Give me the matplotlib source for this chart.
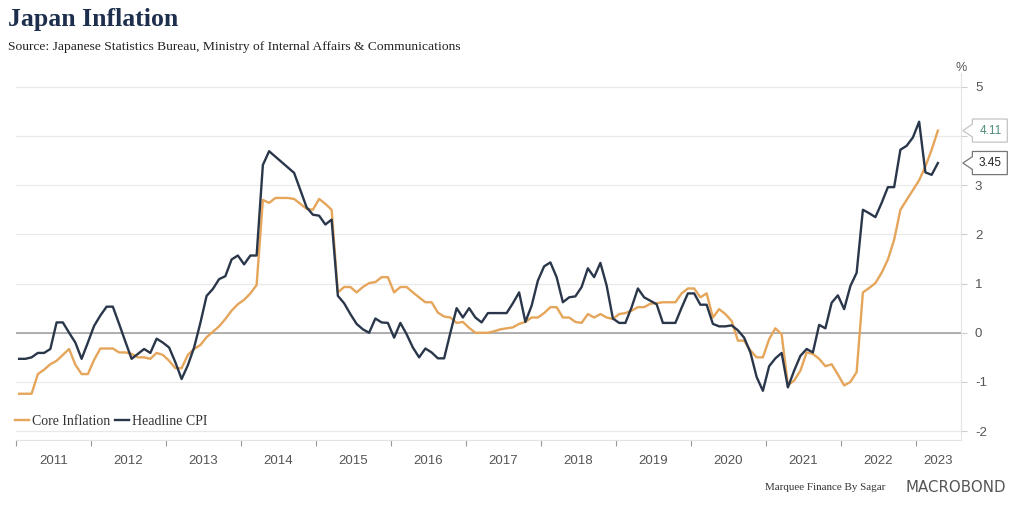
import numpy as np
import pandas as pd
import matplotlib
matplotlib.use('Agg')
import matplotlib.pyplot as plt
import matplotlib.transforms as mtransforms
from matplotlib.patches import Polygon

# monthly data, Jan 2011 .. Apr 2023 (y/y %)
months = pd.period_range('2011-01', '2023-04', freq='M')

core = [
    -1.24, -1.24, -1.24, -0.84, -0.75, -0.64, -0.57, -0.45, -0.33, -0.65, -0.84, -0.84,  # 2011
    -0.55, -0.32, -0.32, -0.32, -0.40, -0.40, -0.43, -0.50, -0.50, -0.53, -0.41, -0.45,  # 2012
    -0.57, -0.72, -0.72, -0.45, -0.33, -0.25, -0.09, 0.02, 0.13, 0.28, 0.45, 0.58,       # 2013
    0.67, 0.80, 0.97, 2.70, 2.64, 2.74, 2.74, 2.74, 2.72, 2.62, 2.52, 2.50,              # 2014
    2.72, 2.62, 2.50, 0.82, 0.93, 0.93, 0.82, 0.93, 1.01, 1.03, 1.13, 1.13,              # 2015
    0.82, 0.93, 0.93, 0.82, 0.72, 0.62, 0.62, 0.41, 0.33, 0.31, 0.20, 0.22,              # 2016
    0.10, 0.00, 0.00, 0.00, 0.03, 0.07, 0.09, 0.11, 0.18, 0.22, 0.31, 0.31,              # 2017
    0.40, 0.52, 0.52, 0.31, 0.31, 0.22, 0.20, 0.38, 0.31, 0.38, 0.31, 0.28,              # 2018
    0.38, 0.40, 0.45, 0.52, 0.52, 0.59, 0.60, 0.62, 0.62, 0.62, 0.80, 0.90,              # 2019
    0.90, 0.72, 0.80, 0.31, 0.48, 0.38, 0.24, -0.16, -0.16, -0.36, -0.50, -0.50,         # 2020
    -0.13, 0.09, -0.03, -1.07, -0.97, -0.77, -0.40, -0.43, -0.53, -0.68, -0.64, -0.85,   # 2021
    -1.07, -1.00, -0.80, 0.82, 0.91, 1.01, 1.22, 1.49, 1.89, 2.50, 2.70, 2.90,           # 2022
    3.10, 3.38, 3.72, 4.11,                                                              # 2023
]

headline = [
    -0.53, -0.53, -0.50, -0.41, -0.41, -0.33, 0.21, 0.21, 0.00, -0.20, -0.53, -0.20,     # 2011
    0.14, 0.35, 0.53, 0.53, 0.18, -0.18, -0.53, -0.43, -0.33, -0.41, -0.12, -0.20,       # 2012
    -0.30, -0.60, -0.94, -0.66, -0.30, 0.20, 0.75, 0.89, 1.09, 1.15, 1.49, 1.57,         # 2013
    1.39, 1.57, 1.57, 3.41, 3.69, 3.58, 3.47, 3.36, 3.25, 2.90, 2.55, 2.40,              # 2014
    2.38, 2.20, 2.30, 0.75, 0.60, 0.38, 0.18, 0.07, 0.00, 0.29, 0.21, 0.20,              # 2015
    -0.10, 0.20, -0.03, -0.30, -0.50, -0.32, -0.40, -0.52, -0.52, 0.00, 0.50, 0.31,      # 2016
    0.50, 0.31, 0.21, 0.40, 0.40, 0.40, 0.40, 0.60, 0.82, 0.22, 0.55, 1.06,              # 2017
    1.35, 1.43, 1.13, 0.62, 0.72, 0.74, 0.93, 1.31, 1.13, 1.42, 0.96, 0.29,              # 2018
    0.20, 0.20, 0.52, 0.90, 0.72, 0.65, 0.58, 0.20, 0.20, 0.20, 0.51, 0.80,              # 2019
    0.80, 0.57, 0.57, 0.18, 0.13, 0.13, 0.15, 0.05, -0.10, -0.40, -0.90, -1.18,          # 2020
    -0.68, -0.52, -0.41, -1.11, -0.77, -0.47, -0.33, -0.40, 0.16, 0.09, 0.61, 0.76,      # 2021
    0.48, 0.95, 1.22, 2.50, 2.43, 2.35, 2.64, 2.96, 2.96, 3.72, 3.80, 3.97,              # 2022
    4.29, 3.26, 3.21, 3.45,                                                              # 2023
]

yticks = [-2, -1, 0, 1, 2, 3, 4, 5]

ORANGE = '#e5a55a'
NAVY = '#2a374b'
GREY = '#555555'

fig = plt.figure(figsize=(10.24, 5.26), dpi=100)
ax = fig.add_axes([0.0156, 0.1635, 0.9229, 0.6977])

x = np.arange(len(months)) + 0.5
ax.plot(x, core, color=ORANGE, lw=1.7, label='Core Inflation', zorder=3)
ax.plot(x, headline, color=NAVY, lw=1.7, label='Headline CPI', zorder=4)

xmax = len(months) + 3.2
ax.set_xlim(0, xmax)
ax.set_ylim(-2.18, 5.28)

# grid + zero line
ax.set_yticks(yticks)
ax.grid(axis='y', color='#e9e9e9', lw=0.9)
ax.axhline(0, color='#a3a3a3', lw=1.2, zorder=2)

for s in ['left', 'top']:
    ax.spines[s].set_visible(False)
for s in ['right', 'bottom']:
    ax.spines[s].set_color('#e3e3e3')

# y axis on the right
ax.yaxis.tick_right()
ax.set_yticklabels(['' if t == 4 else str(t) for t in yticks],
                   family='Liberation Sans', fontsize=9.5, color=GREY)
ax.tick_params(axis='y', length=4, color='#cccccc', pad=6)

# year ticks at boundaries, labels centred in between
starts = [i for i, m in enumerate(months) if m.month == 1]
mids = [(s + min(s + 12, xmax)) / 2 for s in starts]
ax.set_xticks(starts)
ax.set_xticklabels([])
ax.set_xticks(mids, minor=True)
ax.set_xticklabels([str(months[s].year) for s in starts], minor=True,
                   family='Liberation Sans', fontsize=9.5, color=GREY)
ax.tick_params(axis='x', which='major', length=4, color='#999999')
ax.tick_params(axis='x', which='minor', length=0, pad=11)

# last value callouts
trans = mtransforms.blended_transform_factory(ax.transAxes, ax.transData)
for val, tcol, ecol in [(core[-1], '#4f8a7d', '#c4c4c4'),
                        (headline[-1], '#222222', '#777777')]:
    h, n = 0.235, 0.13
    pts = [(1.002, val), (1.012, val + n), (1.012, val + h), (1.049, val + h),
           (1.049, val - h), (1.012, val - h), (1.012, val - n)]
    ax.add_patch(Polygon(pts, closed=True, transform=trans, facecolor='white',
                         edgecolor=ecol, lw=0.9, clip_on=False, zorder=6))
    ax.text(1.031, val, f'{val:.2f}', transform=trans, ha='center', va='center',
            family='Liberation Sans', fontsize=8.5, color=tcol, zorder=7)

leg = ax.legend(loc='lower left', bbox_to_anchor=(-0.004, 0.025), ncol=2, frameon=False,
                handlelength=1.0, handletextpad=0.25, columnspacing=0.3,
                borderaxespad=0, borderpad=0.2, prop={'family': 'Liberation Serif', 'size': 10})
for t in leg.get_texts():
    t.set_color('#333333')

fig.text(0.939, 0.871, '%', ha='center', va='center', family='Liberation Sans',
         fontsize=9, color=GREY)

fig.text(0.008, 0.962, 'Japan Inflation', ha='left', va='center', family='Liberation Serif',
         fontweight='bold', fontsize=18.5, color='#1d2f4d')
fig.text(0.008, 0.911, 'Source: Japanese Statistics Bureau, Ministry of Internal Affairs & Communications',
         ha='left', va='center', family='Liberation Serif', fontsize=9.7, color='#222222')

fig.text(0.747, 0.074, 'Marquee Finance By Sagar', ha='left', va='center',
         family='Liberation Serif', fontsize=7.9, color='#333333')
fig.text(0.884, 0.074, 'MACROBOND', ha='left', va='center', family='DejaVu Sans',
         fontsize=10.8, color=GREY)

fig.savefig('out.png', dpi=100, facecolor='white')
